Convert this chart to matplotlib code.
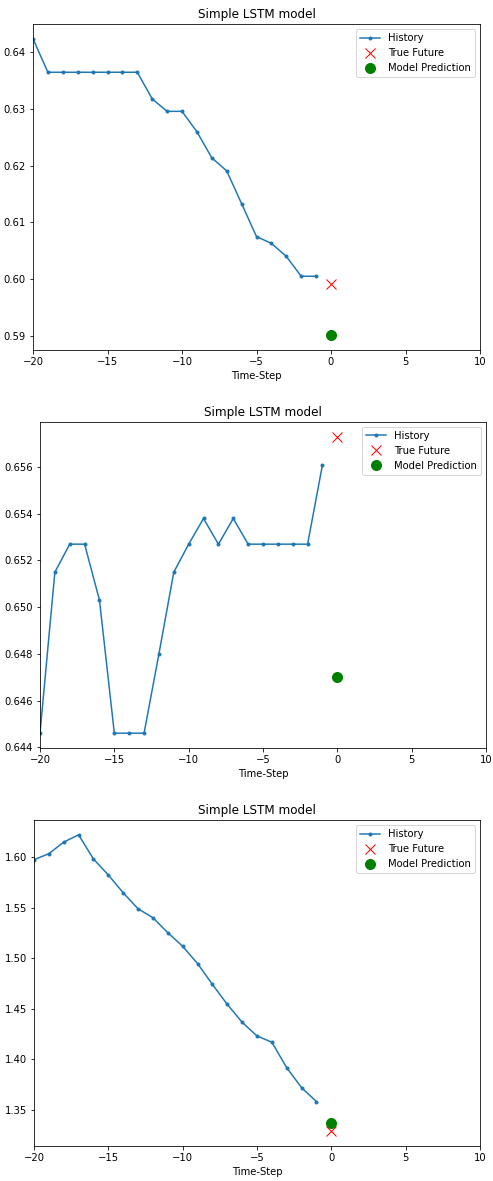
import matplotlib
matplotlib.use("Agg")
import matplotlib.pyplot as plt
import numpy as np

time_steps = list(range(-20, 0))

history_1 = [0.6424, 0.6365, 0.6365, 0.6365, 0.6365, 0.6365, 0.6365, 0.6365,
             0.6318, 0.6296, 0.6296, 0.6260, 0.6214, 0.6191, 0.6133, 0.6075,
             0.6063, 0.6040, 0.6005, 0.6005]
true_1 = 0.5992
pred_1 = 0.5901

history_2 = [0.6446, 0.6515, 0.6527, 0.6527, 0.6503, 0.6446, 0.6446, 0.6446,
             0.6480, 0.6515, 0.6527, 0.6538, 0.6527, 0.6538, 0.6527, 0.6527,
             0.6527, 0.6527, 0.6527, 0.6561]
true_2 = 0.6573
pred_2 = 0.6470

history_3 = [1.5977, 1.6037, 1.6152, 1.6224, 1.5984, 1.5826, 1.5649, 1.5491,
             1.5402, 1.5254, 1.5119, 1.4948, 1.4741, 1.4543, 1.4366, 1.4230,
             1.4168, 1.3915, 1.3717, 1.3579]
true_3 = 1.3286
pred_3 = 1.3368

title = "Simple LSTM model"
labels = ["History", "True Future", "Model Prediction"]
future_x = 0

W, H = 493, 1181
fig = plt.figure(figsize=(W / 72, H / 72), dpi=72)

boxes = [(33, 480, 24, 350), (40, 486, 422, 748), (34, 480, 820, 1146)]
datasets = [(history_1, true_1, pred_1), (history_2, true_2, pred_2), (history_3, true_3, pred_3)]

for (l, r, t, b), (hist, tru, pred) in zip(boxes, datasets):
    ax = fig.add_axes([l / W, 1 - b / H, (r - l) / W, (b - t) / H])
    ax.plot(time_steps, hist, '.-', label=labels[0])
    ax.plot([future_x], [tru], 'rx', markersize=10, label=labels[1])
    ax.plot([future_x], [pred], 'go', markersize=10, label=labels[2])
    ax.set_title(title, fontsize=12)
    ax.legend(loc='upper right')
    ax.set_xlim([-20, 10])
    ax.set_xlabel('Time-Step')

fig.savefig("out.png", dpi=72)
